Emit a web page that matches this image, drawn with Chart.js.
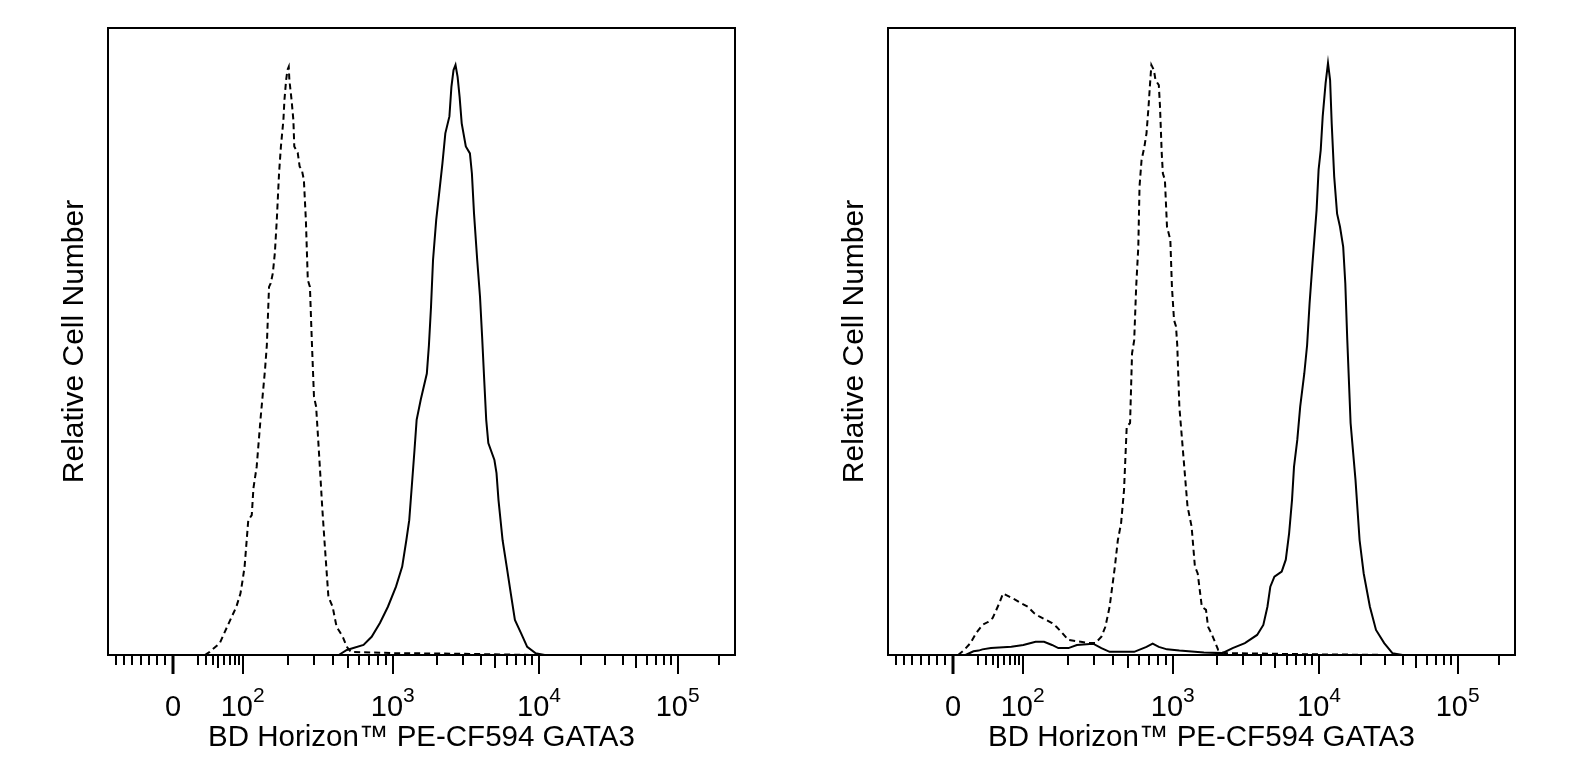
<!DOCTYPE html>
<html>
<head>
<meta charset="utf-8">
<title>GATA3 histograms</title>
<script src="https://cdn.jsdelivr.net/npm/chart.js@4.4.1/dist/chart.umd.min.js"></script>
<style>
    html, body { margin: 0; padding: 0; background: #fff; }
    .panel { position: absolute; top: 0; width: 780px; height: 774px; }
    #panelLeft { left: 0; }
    #panelRight { left: 780px; }
</style>
</head>
<body>
<div class="panel" id="panelLeft"><canvas id="leftChart" width="780" height="774"></canvas></div>
<div class="panel" id="panelRight"><canvas id="rightChart" width="780" height="774"></canvas></div>
<script>
// ===== dados (intensidade de fluorescência, % relativo) =====
const leftIsoX = [28, 35, 53, 60, 71, 84, 94, 100, 103, 109, 115, 118, 124, 132, 141, 145, 150, 154, 159, 164,
    169, 175, 180, 187, 190, 195, 199, 203, 205, 212, 218, 221, 233, 240, 248, 256, 264, 272, 281, 286,
    290, 299, 309, 319, 329, 339, 351, 361, 373, 398, 410, 423, 465, 495, 527, 1000, 3000, 9000];
const leftIsoY = [0, 0.5, 1.9, 3.5, 5.6, 7.7, 9.8, 12.0, 14.1, 21.5, 22.3, 26.6, 30.0, 38.0, 45.5, 49.4, 58.7, 59.3, 60.9, 64.1,
    69.4, 76.9, 81.1, 85.3, 88.5, 91.7, 93.3, 93.8, 91.7, 88.5, 85.3, 81.1, 80.1, 77.9, 77.4, 75.8, 69.4, 59.8, 58.7, 53.4,
    49.4, 41.2, 39.6, 34.3, 29.0, 23.7, 18.3, 14.1, 9.3, 7.7, 6.1, 4.5, 2.9, 1.3, 0.5, 0.3, 0.2, 0];

const leftGataX = [437, 495, 639, 724, 822, 929, 1053, 1161, 1239, 1297, 1349, 1409, 1457, 1554, 1711, 1768, 1827, 1886, 1983, 2076,
    2187, 2289, 2441, 2519, 2604, 2687, 2777, 2866, 2962, 3160, 3371, 3478, 3596, 3781, 3952, 4084, 4221, 4357, 4503, 4957,
    5123, 5286, 5639, 6015, 6417, 6844, 7534, 8305, 9450, 11000];
const leftGataY = [0, 0.8, 1.6, 2.9, 5.1, 7.7, 10.9, 14.1, 18.3, 21.5, 26.8, 32.7, 37.5, 40.7, 44.9, 49.4, 55.5, 63.0, 69.4, 73.6,
    78.4, 83.2, 85.9, 90.6, 93.3, 94.1, 92.2, 89.0, 84.8, 81.1, 80.0, 76.8, 70.4, 63.0, 57.1, 50.8, 43.9, 37.5, 33.8, 31.1,
    29.0, 24.7, 18.3, 14.1, 9.8, 5.6, 3.5, 1.3, 0.3, 0];

const rightIsoX = [3, 7, 12, 18, 25, 33, 40, 52, 58, 69, 82, 97, 108, 119, 130, 143, 157, 168, 184, 202,
    244, 277, 305, 335, 356, 380, 412, 431, 453, 474, 494, 520, 536, 554, 571, 590, 601, 620, 648, 669,
    690, 704, 721, 749, 768, 808, 823, 845, 860, 887, 916, 964, 988, 1021, 1053, 1074, 1110, 1184, 1262, 1346,
    1418, 1482, 1581, 1689, 1743, 1833, 1919, 2046, 2256, 10000, 35000];
const rightIsoY = [0, 0.8, 1.9, 3.5, 4.8, 5.3, 5.9, 8.2, 9.8, 9.3, 8.8, 8.2, 7.7, 6.7, 6.1, 5.6, 5.1, 4.5, 3.5, 2.4,
    2.1, 1.9, 1.9, 2.9, 4.5, 7.7, 14.1, 18.3, 21.0, 26.3, 36.4, 37.0, 48.1, 50.2, 58.7, 65.1, 74.7, 78.9, 81.1, 83.2,
    87.4, 90.6, 94.1, 93.3, 91.7, 90.9, 87.4, 80.0, 76.8, 75.8, 68.3, 66.2, 58.7, 53.4, 52.4, 49.4, 39.6, 31.6, 23.7, 20.5,
    14.1, 13.0, 7.7, 7.2, 4.5, 3.5, 2.4, 0.8, 0.3, 0.1, 0];

const rightGataX = [8, 15, 21, 25, 37, 73, 101, 122, 139, 157, 173, 202, 230, 295, 335, 380, 554, 669, 735, 808, 916,
    1110, 1634, 2184, 2567, 3115, 3775, 4163, 4441, 4648, 4957, 5559, 5929, 6247, 6538, 6747, 7105, 7438, 7934, 8291, 8624,
    9027, 9629, 9938, 10287, 10634, 11159, 11611, 12023, 12346, 12870, 13502, 14170, 14944, 15475, 15996, 16896, 18335, 19621, 21006, 23281,
    25763, 29520, 33820, 40000];
const rightGataY = [0, 0.6, 0.7, 0.9, 1.1, 1.3, 1.6, 2.1, 2.1, 1.6, 1.1, 1.1, 1.6, 1.8, 1.1, 0.5, 0.5, 1.3, 1.8, 1.3, 0.9,
    0.7, 0.4, 0.3, 1.1, 1.9, 3.2, 4.8, 7.7, 10.9, 12.5, 13.3, 15.2, 19.4, 24.7, 30.0, 34.3, 39.6, 44.9, 49.4, 56.1,
    62.5, 71.0, 77.4, 80.5, 85.9, 91.2, 94.4, 91.7, 84.8, 76.3, 70.4, 68.3, 65.1, 59.3, 50.2, 37.0, 27.9, 18.3, 13.0, 7.7,
    4.0, 1.9, 0.3, 0];

// ===== eixo biexponencial =====
const majorTicks = [0, 100, 1000, 10000, 100000];
const majorBase = ['0', '10', '10', '10', '10'];
const majorExp = ['', '2', '3', '4', '5'];
const midTicks = [50, 500, 5000, 50000];
const minorTicks = [-70, -60, -50, -40, -30, -20, -10,
    20, 30, 40, 60, 70, 80, 90,
    200, 300, 400, 600, 700, 800, 900,
    2000, 3000, 4000, 6000, 7000, 8000, 9000,
    20000, 30000, 40000, 60000, 70000, 80000, 90000, 200000];

const X_MIN = -80;
const X_MAX = 262143;
// pontos de ancoragem: valor -> fração do comprimento do eixo
const AXIS_ANCHORS = [
    [-80, 0], [0, 0.1037], [20, 0.1431], [50, 0.1750], [100, 0.2148],
    [1000, 0.4541], [10000, 0.6874], [100000, 0.9086], [262143, 1]
];

const FONT = '"Liberation Sans", Arial, Helvetica, sans-serif';

function gOf(v) {
    return v < 0 ? v / 10 : Math.asinh(v / 10);
}
function vOf(g) {
    return g < 0 ? g * 10 : 10 * Math.sinh(g);
}

function valueToFraction(v) {
    let i = 0;
    while (i < AXIS_ANCHORS.length - 2 && v > AXIS_ANCHORS[i + 1][0]) i++;
    const a = AXIS_ANCHORS[i], b = AXIS_ANCHORS[i + 1];
    const t = (gOf(v) - gOf(a[0])) / (gOf(b[0]) - gOf(a[0]));
    return a[1] + t * (b[1] - a[1]);
}

function fractionToValue(f) {
    let i = 0;
    while (i < AXIS_ANCHORS.length - 2 && f > AXIS_ANCHORS[i + 1][1]) i++;
    const a = AXIS_ANCHORS[i], b = AXIS_ANCHORS[i + 1];
    const t = (f - a[1]) / (b[1] - a[1]);
    return vOf(gOf(a[0]) + t * (gOf(b[0]) - gOf(a[0])));
}

class BiexScale extends Chart.Scale {
    determineDataLimits() {
        this.min = this.options.min;
        this.max = this.options.max;
    }
    buildTicks() {
        return majorTicks.map(v => ({ value: v }));
    }
    getLabelForValue(value) {
        return String(value);
    }
    getPixelForValue(value) {
        const f0 = valueToFraction(this.min);
        const f1 = valueToFraction(this.max);
        return this.getPixelForDecimal((valueToFraction(value) - f0) / (f1 - f0));
    }
    getValueForPixel(pixel) {
        const f0 = valueToFraction(this.min);
        const f1 = valueToFraction(this.max);
        return fractionToValue(f0 + this.getDecimalForPixel(pixel) * (f1 - f0));
    }
}
BiexScale.id = 'biex';
BiexScale.defaults = {};
Chart.register(BiexScale);

// caixa, marcas e rótulos do eixo x (estilo FACS)
const facsAxisPlugin = {
    id: 'facsAxis',
    afterDraw(chart) {
        const { ctx, chartArea } = chart;
        const xs = chart.scales.x;
        const base = chartArea.bottom;
        ctx.save();
        ctx.strokeStyle = '#000';
        ctx.lineWidth = 2;
        ctx.strokeRect(chartArea.left, chartArea.top, chartArea.right - chartArea.left, chartArea.bottom - chartArea.top);

        const tick = (v, len, w) => {
            const px = Math.round(xs.getPixelForValue(v));
            ctx.lineWidth = w;
            ctx.beginPath();
            ctx.moveTo(px, base);
            ctx.lineTo(px, base + len);
            ctx.stroke();
        };
        minorTicks.forEach(v => tick(v, 10, 2));
        midTicks.forEach(v => tick(v, 13, 2));
        majorTicks.forEach(v => tick(v, 19, v === 0 ? 3 : 2));

        ctx.fillStyle = '#000';
        ctx.textBaseline = 'alphabetic';
        ctx.textAlign = 'left';
        majorTicks.forEach((v, i) => {
            const px = xs.getPixelForValue(v);
            ctx.font = '29px ' + FONT;
            const wb = ctx.measureText(majorBase[i]).width;
            ctx.font = '21px ' + FONT;
            const we = majorExp[i] ? ctx.measureText(majorExp[i]).width : 0;
            const x0 = px - (wb + we) / 2;
            ctx.font = '29px ' + FONT;
            ctx.fillText(majorBase[i], x0, 716);
            if (majorExp[i]) {
                ctx.font = '21px ' + FONT;
                ctx.fillText(majorExp[i], x0 + wb, 702);
            }
        });
        ctx.restore();
    }
};

function toPoints(xs, ys) {
    return xs.map((x, i) => ({ x: x, y: ys[i] }));
}

function createHistogram(canvasId, isoX, isoY, gataX, gataY) {
    const ctx = document.getElementById(canvasId);
    if (!ctx) return;

    new Chart(ctx, {
        type: 'line',
        data: {
            datasets: [{
                label: 'Isotype',
                data: toPoints(isoX, isoY),
                borderColor: '#000',
                borderWidth: 2,
                borderDash: [6, 4],
                pointRadius: 0,
                tension: 0,
                fill: false,
                clip: 4
            }, {
                label: 'GATA3',
                data: toPoints(gataX, gataY),
                borderColor: '#000',
                borderWidth: 2,
                pointRadius: 0,
                tension: 0,
                fill: false,
                clip: 4
            }]
        },
        options: {
            responsive: false,
            animation: false,
            events: [],
            devicePixelRatio: 1,
            layout: {
                padding: { top: 28, right: 45, left: 0, bottom: 0 }
            },
            plugins: {
                legend: { display: false },
                tooltip: { enabled: false }
            },
            scales: {
                x: {
                    type: 'biex',
                    min: X_MIN,
                    max: X_MAX,
                    ticks: { display: false },
                    grid: { display: false },
                    border: { display: false },
                    title: {
                        display: true,
                        text: 'BD Horizon™ PE-CF594 GATA3',
                        color: '#000',
                        font: { family: FONT, size: 29.5 },
                        padding: { top: 0, bottom: 18 }
                    },
                    afterFit: function (scale) {
                        scale.height = 119;
                    }
                },
                y: {
                    type: 'linear',
                    min: 0,
                    max: 100,
                    ticks: { display: false },
                    grid: { display: false },
                    border: { display: false },
                    title: {
                        display: true,
                        text: 'Relative Cell Number',
                        color: '#000',
                        font: { family: FONT, size: 30 },
                        padding: { top: 57, bottom: 0 }
                    },
                    afterFit: function (scale) {
                        scale.width = 108;
                    }
                }
            }
        },
        plugins: [facsAxisPlugin]
    });
}

createHistogram('leftChart', leftIsoX, leftIsoY, leftGataX, leftGataY);
createHistogram('rightChart', rightIsoX, rightIsoY, rightGataX, rightGataY);
</script>
</body>
</html>
